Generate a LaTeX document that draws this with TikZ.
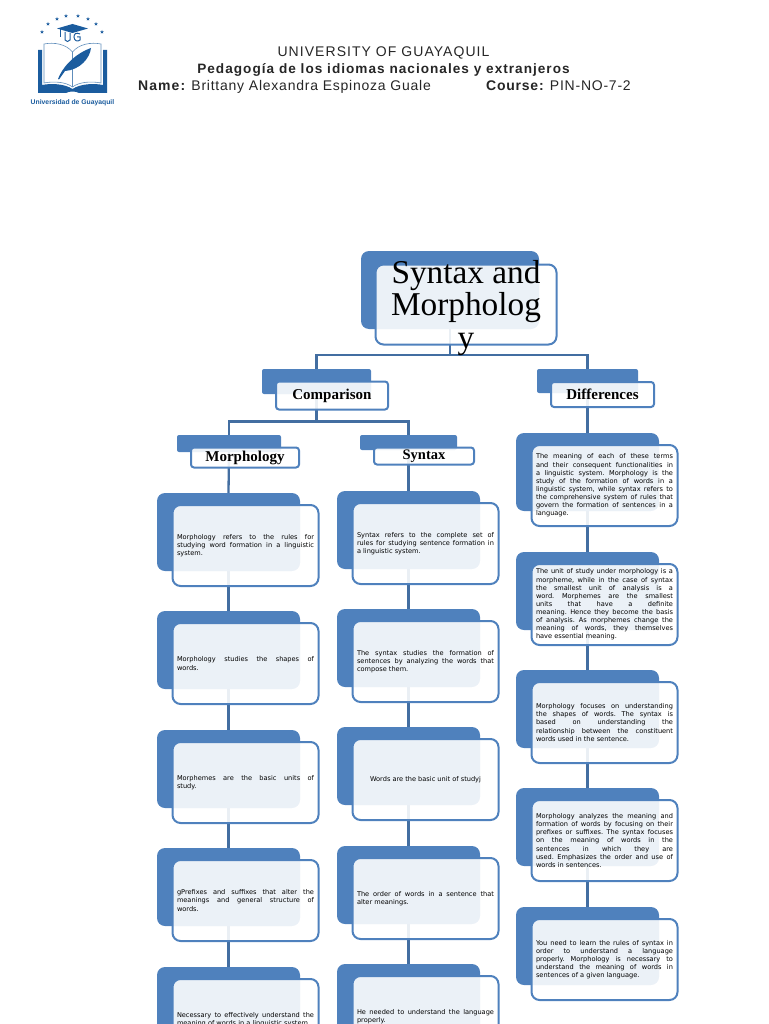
\documentclass[tikz,border=0pt]{standalone}
\usepackage{fontspec}
\setmainfont{Liberation Serif}
\newfontfamily\headfont[LetterSpace=5.5]{Liberation Sans}
\newfontfamily\headspaced[LetterSpace=7.5]{Liberation Sans}
\newfontfamily\logofont{Liberation Sans}
\newfontfamily\cardfont{DejaVu Sans}
\usetikzlibrary{calc,shapes.geometric,backgrounds}
\definecolor{blu}{HTML}{4F81BD}
\definecolor{logob}{HTML}{1B5C9E}
\tikzset{
  conn/.style={draw=blu!85!black,line width=2.3pt},
  backbox/.style={fill=blu,draw=none,rounded corners=#1,inner sep=0pt},
  frontbox/.style={draw=blu,line width=2pt,fill=white,fill opacity=0.89,text opacity=1,rounded corners=#1,inner sep=0pt},
  cardtext/.style={align=justify,text width=137pt,font=\cardfont\fontsize{6.6}{8.1}\selectfont},
  head/.style={inner sep=0pt,anchor=base west,text=black!85,font=\headfont\fontsize{14}{16}\selectfont},
  logotext/.style={inner sep=0pt,text=logob,font=\logofont\bfseries\fontsize{6.8}{8}\selectfont},
}
\newcommand{\card}[4]{%
  \node[backbox=8pt,minimum width=143pt,minimum height=78pt] (#1b) at (#2+71.5,-#3-39) {};
  \node[frontbox=8pt,minimum width=146pt,minimum height=81pt,cardtext] (#1f) at (#2+88.5,-#3-52.5) {\frenchspacing\tolerance=9999\hyphenpenalty=10000\emergencystretch=20pt #4};
}
\newcommand{\lvl}[9]{%
  \node[backbox=2pt,minimum width=#4pt,minimum height=#5pt] (#1b) at (#2+#4/2,-#3-#5/2) {};
  \node[frontbox=3pt,minimum width=#8pt,minimum height=#9pt,font=\bfseries\fontsize{#6}{#6}\selectfont] (#1f) at (#2+14+#8/2,-#3-#7-#9/2) {#1};
}
\begin{document}
\begin{tikzpicture}[x=1pt,y=1pt]
\useasboundingbox (0,0) rectangle (768,-1024);
\clip (0,0) rectangle (768,-1024);
% title
\node[backbox=8pt,minimum width=178pt,minimum height=78pt] (tb) at (450,-290) {};
\node[frontbox=8pt,minimum width=181pt,minimum height=80pt] (tf) at (466,-304.5) {};
\node[inner sep=0pt,align=center,font=\fontsize{33.3}{32.5}\selectfont] (tt) at (466,-308) {Syntax and\\Morpholog\\y};
% level boxes
\lvl{Comparison}{262}{369}{109}{25}{15}{12.5}{112}{28}
\lvl{Differences}{537}{369}{101}{24}{15}{13}{103}{25}
\lvl{Morphology}{177}{435}{104}{17}{15}{12.5}{108}{20}
\lvl{Syntax}{360}{435}{97}{15}{14.5}{12.5}{100}{17}
% morphology column
\card{m1}{157}{493}{Morphology refers to the rules for\linebreak studying word formation in a linguistic\linebreak system.}
\card{m2}{157}{611}{Morphology studies the shapes of\linebreak words.}
\card{m3}{157}{730}{Morphemes are the basic units of\linebreak study.}
\card{m4}{157}{848}{gPrefixes and suffixes that alter the\linebreak meanings and general structure of\linebreak words.}
\card{m5}{157}{967}{Necessary to effectively understand the\linebreak meaning of words in a linguistic system.}
% syntax column
\card{s1}{337}{491}{Syntax refers to the complete set of\linebreak rules for studying sentence formation in\linebreak a linguistic system.}
\card{s2}{337}{609}{The syntax studies the formation of\linebreak sentences by analyzing the words that\linebreak compose them.}
\card{s3}{337}{727}{\hspace*{\fill}Words are the basic unit of studyj\hspace*{\fill}\mbox{}}
\card{s4}{337}{846}{The order of words in a sentence that\linebreak alter meanings.}
\card{s5}{337}{964}{He needed to understand the language\linebreak properly.}
% differences column
\card{d1}{516}{433}{The meaning of each of these terms\linebreak and their consequent functionalities in\linebreak a linguistic system. Morphology is the\linebreak study of the formation of words in a\linebreak linguistic system, while syntax refers to\linebreak the comprehensive system of rules that\linebreak govern the formation of sentences in a\linebreak language.}
\card{d2}{516}{552}{The unit of study under morphology is a\linebreak morpheme, while in the case of syntax\linebreak the smallest unit of analysis is a\linebreak word. Morphemes are the smallest\linebreak units that have a definite\linebreak meaning. Hence they become the basis\linebreak of analysis. As morphemes change the\linebreak meaning of words, they themselves\linebreak have essential meaning.}
\card{d3}{516}{670}{Morphology focuses on understanding\linebreak the shapes of words. The syntax is\linebreak based on understanding the\linebreak relationship between the constituent\linebreak words used in the sentence.}
\card{d4}{516}{788}{Morphology analyzes the meaning and\linebreak formation of words by focusing on their\linebreak prefixes or suffixes. The syntax focuses\linebreak on the meaning of words in the\linebreak sentences in which they are\linebreak used. Emphasizes the order and use of\linebreak words in sentences.}
\card{d5}{516}{907}{You need to learn the rules of syntax in\linebreak order to understand a language\linebreak properly. Morphology is necessary to\linebreak understand the meaning of words in\linebreak sentences of a given language.}
% connectors, beneath all boxes: the translucent fronts show them faintly
\coordinate (bustop) at (450,-355);
\coordinate (buscmp) at (316.5,-421.5);
\begin{scope}[on background layer]
\draw[conn] (tb.south) -- (bustop) -| (Comparisonb.north);
\draw[conn] (bustop) -| (Differencesb.north);
\draw[conn] (Comparisonb.south) -- (buscmp) -| (Morphologyb.north);
\draw[conn] (buscmp) -| (Syntaxb.north);
\draw[conn] (Morphologyb.south) -- (m1b.north);
\draw[conn] (m1b.south) -- (m2b.north);
\draw[conn] (m2b.south) -- (m3b.north);
\draw[conn] (m3b.south) -- (m4b.north);
\draw[conn] (m4b.south) -- (m5b.north);
\draw[conn] (Syntaxb.south) -- (s1b.north);
\draw[conn] (s1b.south) -- (s2b.north);
\draw[conn] (s2b.south) -- (s3b.north);
\draw[conn] (s3b.south) -- (s4b.north);
\draw[conn] (s4b.south) -- (s5b.north);
\draw[conn] (Differencesb.south) -- (d1b.north);
\draw[conn] (d1b.south) -- (d2b.north);
\draw[conn] (d2b.south) -- (d3b.north);
\draw[conn] (d3b.south) -- (d4b.north);
\draw[conn] (d4b.south) -- (d5b.north);
\end{scope}
% header
\node[inner sep=0pt,font=\headspaced\fontsize{14}{16}\selectfont,text=black!85] (h1) at (383.5,-52.5) {UNIVERSITY OF GUAYAQUIL};
\node[inner sep=0pt,font=\headspaced\bfseries\fontsize{13.6}{16}\selectfont,text=black!85] (h2) at (383.5,-70) {Pedagogía de los idiomas nacionales y extranjeros};
\node[head] (h3) at (138,-91) {{\headspaced\bfseries Name:} Brittany Alexandra Espinoza Guale};
\node[head] (h4) at (486,-91) {{\bfseries Course:} PIN-NO-7-2};
% logo
\fill[logob] (38,-50) -- (42,-50) -- (42,-85) .. controls (52,-83) and (65,-84) .. (72.5,-89) .. controls (80,-84) and (93,-83) .. (103,-85) -- (103,-50) -- (107,-50) -- (107,-93) -- (79,-93) .. controls (76,-91) and (69,-91) .. (66,-93) -- (38,-93) -- cycle;
\draw[logob!70,line width=0.6pt] (44,-44) .. controls (54,-42) and (66,-44) .. (72.5,-52) .. controls (79,-44) and (91,-42) .. (101,-44) -- (101,-83) .. controls (91,-81) and (79,-82) .. (72.5,-87) .. controls (66,-82) and (54,-81) .. (44,-83) -- cycle;
\draw[logob!70,line width=0.5pt] (72.5,-52) -- (72.5,-87);
\fill[logob] (58,-79) .. controls (62,-68) and (74,-54) .. (91,-48) .. controls (90,-58) and (80,-70) .. (65,-71) -- (59,-79.5) -- cycle;
\fill[logob] (72.5,-24) -- (88,-28.5) -- (72.5,-33) -- (57,-28.5) -- cycle;
\draw[logob,line width=1pt] (65,-32) -- (65,-40) .. controls (66,-42) and (69,-42) .. (70,-40) -- (70,-33);
\draw[logob,line width=1pt] (80,-34) .. controls (76,-32) and (74,-34) .. (74,-37) .. controls (74,-41) and (78,-42) .. (80,-40) -- (80,-37) -- (77,-37);
\draw[logob,line width=0.6pt] (60,-29) -- (60,-37);
\foreach \px/\py [count=\i] in {42/32,48/24,57/19,66/16,78/16,88/19,96/24,102/32}
  \node[star,star points=5,star point ratio=2.4,fill=logob,inner sep=0pt,minimum size=4pt] (st\i) at (\px,-\py) {};
\node[logotext] (lt) at (72.5,-102.5) {Universidad de Guayaquil};
\end{tikzpicture}
\end{document}
